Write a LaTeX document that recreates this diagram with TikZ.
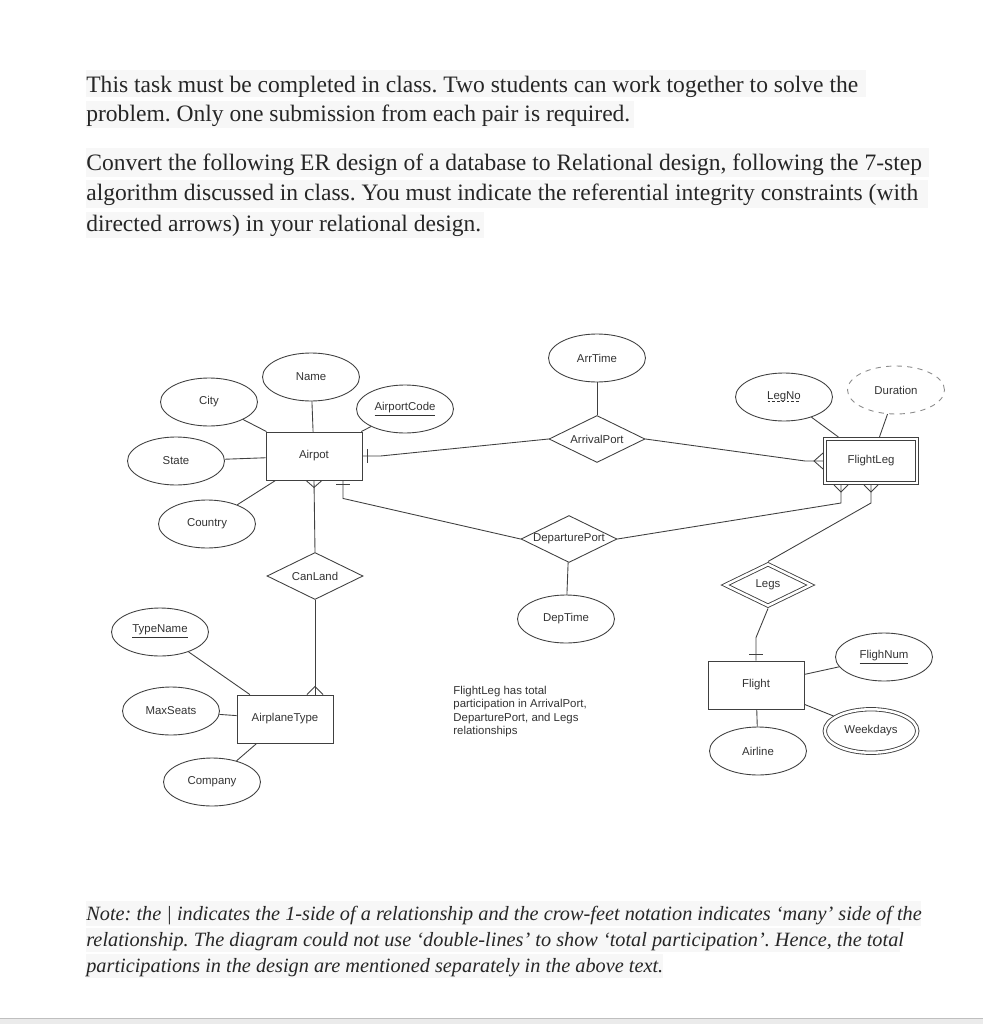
\documentclass[tikz,border=0pt]{standalone}
\usepackage{fontspec}
\setmainfont{Liberation Serif}
\newfontfamily\erfont{Liberation Sans}
\usetikzlibrary{shapes.geometric,calc}
\newcommand{\dashunder}[1]{\setbox0=\hbox{#1}\rlap{\lower1.1pt\hbox to \wd0{\xleaders\hbox to 2.4pt{\vrule width 1.4pt height 0.45pt\hfil}\hfil}}\box0}
\frenchspacing

\begin{document}
\begin{tikzpicture}[x=0.02cm,y=-0.02cm]
    \tikzset{para/.style = {anchor=base west,inner sep=0pt,text=black!85,font=\fontsize{13.4}{17}\selectfont}}
    \tikzset{notepara/.style = {para,font=\fontsize{11.55}{15}\selectfont\itshape}}
    \tikzset{hilite/.style = {fill=black!3,draw=none}}
    \tikzset{erbase/.style = {draw=black!75,line width=0.5pt,inner sep=0pt,text=black!80,font=\erfont\fontsize{6.5}{7.5}\selectfont}}
    \tikzset{attr/.style = {erbase,shape=ellipse,minimum width=1.94cm,minimum height=0.96cm}}
    \tikzset{entity/.style = {erbase,shape=rectangle,minimum width=1.92cm,minimum height=0.96cm}}
    \tikzset{relation/.style = {erbase,shape=diamond,aspect=2,minimum width=1.92cm,minimum height=0.94cm}}
    \tikzset{twice/.style = {double,double distance=0.05cm,outer sep=0.04cm}}
    \tikzset{link/.style = {draw=black!75,line width=0.5pt}}
    \useasboundingbox (0,0) rectangle (983,1024);

    % shaded text lines
    \fill[hilite] (86,70) rectangle (866,97);
    \fill[hilite] (86,101) rectangle (634,128);
    \fill[hilite] (86,148) rectangle (929,177);
    \fill[hilite] (86,180) rectangle (928,208);
    \fill[hilite] (86,212) rectangle (484,238);
    \fill[hilite] (86,901) rectangle (921,926);
    \fill[hilite] (86,928) rectangle (900,952);
    \fill[hilite] (86,954) rectangle (663,978);

    % task text
    \node[para] (task1) at (86,92) {This task must be completed in class. Two students can work together to solve the};
    \node[para] (task2) at (86,122) {problem. Only one submission from each pair is required.};
    \node[para] (conv1) at (86,170) {Convert the following ER design of a database to Relational design, following the 7-step};
    \node[para] (conv2) at (86,200) {algorithm discussed in class. You must indicate the referential integrity constraints (with};
    \node[para] (conv3) at (86,231) {directed arrows) in your relational design.};

    % ER diagram
    \node[attr] (arrtime) at (597,358) {ArrTime};
    \node[attr] (name) at (311,377) {Name};
    \node[attr] (city) at (209,402) {City};
    \node[attr] (code) at (405,409) {\underline{AirportCode}};
    \node[attr] (legno) at (784,397) {\dashunder{LegNo}};
    \node[attr,dashed,draw=black!45] (duration) at (896,390) {Duration};
    \node[relation] (arrival) at (597,439) {ArrivalPort};
    \node[entity] (airpot) at (314,456) {Airpot};
    \node[attr] (state) at (176,461) {State};
    \node[entity,twice,minimum width=1.84cm,minimum height=0.88cm] (flightleg) at (871,461) {FlightLeg};
    \node[attr] (country) at (207,524) {Country};
    \node[relation] (departure) at (569,539) {DeparturePort};
    \node[relation] (canland) at (315,576) {CanLand};
    \node[relation,twice,minimum width=1.74cm,minimum height=0.86cm] (legs) at (768,585) {Legs};
    \node[attr] (deptime) at (566,619) {DepTime};
    \node[attr] (typename) at (160,632) {\underline{TypeName}};
    \node[attr] (flighnum) at (884,657) {\underline{FlighNum}};
    \node[entity] (flight) at (756,685) {Flight};
    \node[attr] (maxseats) at (171,711) {MaxSeats};
    \node[entity] (airplane) at (285,719) {AirplaneType};
    \node[attr,twice,minimum width=1.85cm,minimum height=0.87cm] (weekdays) at (871,731) {Weekdays};
    \node[attr] (airline) at (758,751) {Airline};
    \node[attr] (company) at (212,782) {Company};
    \node[erbase,draw=none,anchor=north west,align=left] (totalnote) at (453,686) {FlightLeg has total\\participation in ArrivalPort,\\DeparturePort, and Legs\\relationships};

    % attributes
    \draw[link] (name) -- (airpot);
    \draw[link] (city) -- (airpot);
    \draw[link] (code) -- (airpot);
    \draw[link] (state) -- (airpot);
    \draw[link] (country) -- (airpot);
    \draw[link] (legno) -- (flightleg);
    \draw[link] (duration) -- (flightleg);
    \draw[link] (flighnum) -- (flight);
    \draw[link] (weekdays) -- (flight);
    \draw[link] (airline) -- (flight);
    \draw[link] (typename) -- (airplane);
    \draw[link] (maxseats) -- (airplane);
    \draw[link] (company) -- (airplane);
    \draw[link] (arrtime) -- (arrival);
    \draw[link] (departure) -- (deptime);

    % ArrivalPort
    \draw[link] (airpot.east) -- ++(18,0) -- (arrival.west);
    \draw[link] (airpot.east) ++(5,-7) -- ++(0,14);
    \draw[link] (arrival.east) -- ($(flightleg.west)+(-18,0)$) -- (flightleg.west);
    \draw[link] ($(flightleg.west)+(0,-8)$) -- ++(-9,8) -- ++(9,8);

    % DeparturePort
    \draw[link] (airpot.south) ++(29,0) -- ++(0,18) -- (departure.west);
    \draw[link] (airpot.south) ++(22,4) -- ++(14,0);
    \draw[link] (departure.east) -- ($(flightleg.south)+(-30,18)$) -- ++(0,-18);
    \draw[link] ($(flightleg.south)+(-37,0)$) -- ++(7,7) -- ++(7,-7);

    % Legs
    \draw[link] (legs.north) -- ($(flightleg.south)+(0,18)$) -- (flightleg.south);
    \draw[link] ($(flightleg.south)+(-7,0)$) -- ++(7,7) -- ++(7,-7);
    \draw[link] (legs.south) -- ($(flight.north)+(0,-23)$) -- (flight.north);
    \draw[link] (flight.north) ++(-7,-6) -- ++(14,0);

    % CanLand
    \draw[link] (airpot.south) -- (canland.north);
    \draw[link] ($(airpot.south)+(-8,0)$) -- ++(8,7) -- ++(8,-7);
    \draw[link] (canland.south) -- (canland.south |- airplane.north);
    \draw[link] ($(canland.south |- airplane.north)+(-8,0)$) -- ++(8,-8) -- ++(8,8);

    % note text
    \node[notepara] (note1) at (86,920) {Note: the | indicates the 1-side of a relationship and the crow-feet notation indicates `many' side of the};
    \node[notepara] (note2) at (86,946) {relationship. The diagram could not use `double-lines' to show `total participation'. Hence, the total};
    \node[notepara] (note3) at (86,972) {participations in the design are mentioned separately in the above text.};

    % page edge
    \fill[black!8] (0,1018) rectangle (983,1024);
    \draw[black!25] (0,1018) -- (983,1018);
\end{tikzpicture}
\end{document}
